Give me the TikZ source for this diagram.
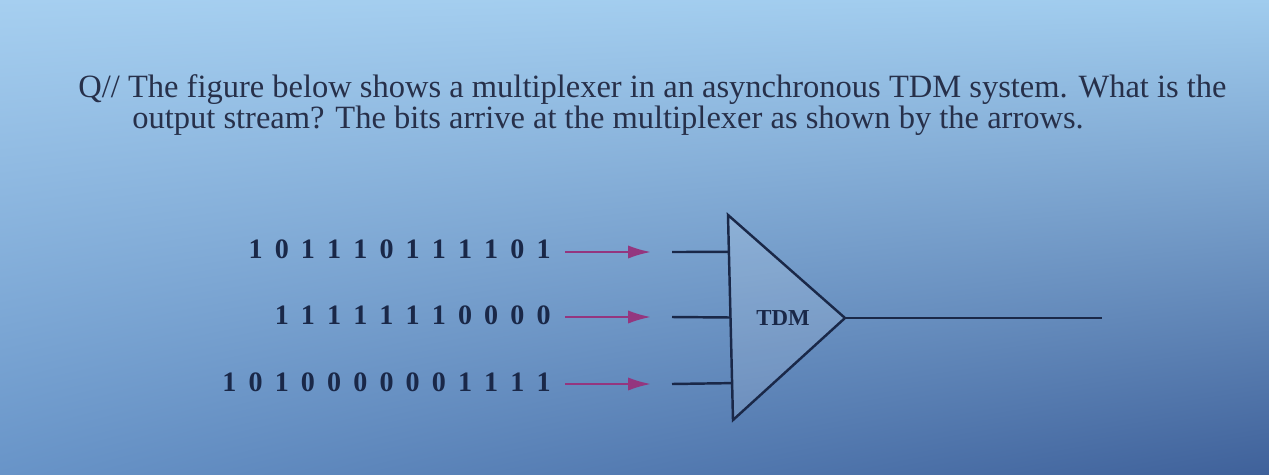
\documentclass[tikz,border=0pt]{standalone}
\usepackage{fontspec}
\setmainfont{Liberation Serif}
\usetikzlibrary{arrows.meta,calc,shadings}
\definecolor{inkblue}{HTML}{1A2848}
\definecolor{txtgray}{HTML}{27304A}
\definecolor{arrowpink}{HTML}{94367F}
\definecolor{bgUL}{RGB}{166,207,240}
\definecolor{bgUR}{RGB}{160,204,238}
\definecolor{bgLL}{RGB}{104,148,200}
\definecolor{bgLR}{RGB}{63,97,154}
\newcommand\bitfont{\bfseries\fontsize{16}{16}\selectfont\spaceskip 6.9pt plus 0pt minus 0pt\relax}
\tikzset{
  question/.style={anchor=base west, inner sep=0pt, text=txtgray, font=\fontsize{18.5}{18.5}\selectfont},
  bits/.style={anchor=east, inner sep=0pt, text=inkblue, font=\bitfont},
  feed/.style={draw=arrowpink, line width=1.3pt, -{Latex[length=13pt,width=7.5pt]}},
  wire/.style={draw=inkblue, line width=1.4pt},
}
\begin{document}
\begin{tikzpicture}[x=0.02cm,y=-0.02cm]
                \shade [upper left=bgUL, upper right=bgUR, lower left=bgLL, lower right=bgLR] (0,0) rectangle (1269,474);
                \node[question] (qlineA) at (78,97) {Q// The figure below shows a multiplexer in an asynchronous TDM system. What is the};
                \node[question] (qlineB) at (132,128) {output stream? The bits arrive at the multiplexer as shown by the arrows.};

                \node[bits] (bitsA) at (551,249) {1 0 1 1 1 0 1 1 1 1 0 1};
                \node[bits] (bitsB) at (551,315) {1 1 1 1 1 1 1 0 0 0 0};
                \node[bits] (bitsC) at (551,382) {1 0 1 0 0 0 0 0 0 1 1 1 1};

                \coordinate (tailA) at (565,252);
                \coordinate (headA) at (651,252);
                \coordinate (tailB) at (565,317);
                \coordinate (headB) at (651,317);
                \coordinate (tailC) at (565,384);
                \coordinate (headC) at (651,384);
                \draw [feed] (tailA)--(headA);
                \draw [feed] (tailB)--(headB);
                \draw [feed] (tailC)--(headC);

                \coordinate (muxtop) at (728,215);
                \coordinate (muxbot) at (733,420);
                \coordinate (muxtip) at (845,318);
                \fill [color=white, fill opacity=0.12] (muxtop)--(muxtip)--(muxbot)--cycle;
                \draw [wire, line join=miter] (muxtop)--(muxtip)--(muxbot)--cycle;
                \node [inner sep=0pt, text=inkblue, font=\bfseries\fontsize{13}{13}\selectfont] (tdm) at (783,318) {TDM};

                \coordinate (inA) at (672,252);
                \coordinate (inB) at (672,317);
                \coordinate (inC) at (672,384);
                \draw [wire] (inA)--($(muxtop)!0.18!(muxbot)$);
                \draw [wire] (inB)--($(muxtop)!0.50!(muxbot)$);
                \draw [wire] (inC)--($(muxtop)!0.82!(muxbot)$);

                \coordinate (outend) at (1102,318);
                \draw [wire] (muxtip)--(outend);
\end{tikzpicture}
\end{document}
